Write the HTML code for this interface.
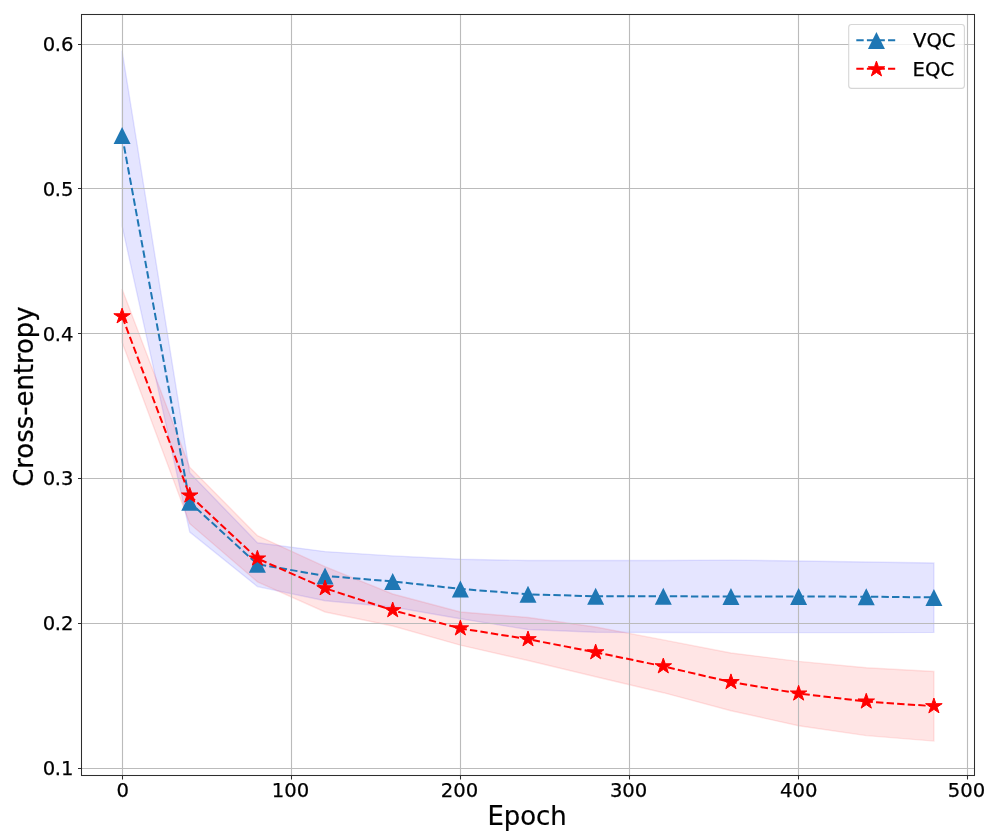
<!DOCTYPE html><html><head><meta charset="utf-8"><style>html,body{margin:0;padding:0;background:#fff}svg{display:block}text{font-family:"DejaVu Sans","Liberation Sans",sans-serif;stroke:#000;stroke-width:0.25px}</style></head><body>
<svg width="1002" height="834" viewBox="0 0 1002 834">
<rect width="1002" height="834" fill="#fff"/>
<defs><clipPath id="ax"><rect x="81.5" y="14.5" width="893" height="761"/></clipPath></defs>
<g clip-path="url(#ax)">
<path d="M122.09,50.8 L189.74,472.7 L257.39,542.8 L325.05,551.6 L392.7,555.9 L460.35,559.3 L528,560.5 L595.65,560.5 L663.3,560.5 L730.95,560.1 L798.61,561 L866.26,562 L933.91,563 L933.91,632.4 L866.26,632.6 L798.61,632.6 L730.95,632.6 L663.3,632.5 L595.65,632.3 L528,629.5 L460.35,618.8 L392.7,607 L325.05,600.8 L257.39,586.6 L189.74,532.1 L122.09,226 Z" fill="#0000ff" fill-opacity="0.1" stroke="#0000ff" stroke-opacity="0.1" stroke-width="1.39"/>
<path d="M122.09,289 L189.74,467.3 L257.39,535.6 L325.05,566.7 L392.7,594 L460.35,612 L528,617.5 L595.65,627 L663.3,639.9 L730.95,653 L798.61,661.4 L866.26,667.8 L933.91,671.5 L933.91,741.1 L866.26,735.6 L798.61,725.8 L730.95,710.7 L663.3,692.7 L595.65,676.8 L528,660.5 L460.35,645.2 L392.7,626 L325.05,612 L257.39,581.8 L189.74,523.7 L122.09,342.3 Z" fill="#ff0000" fill-opacity="0.1" stroke="#ff0000" stroke-opacity="0.1" stroke-width="1.39"/>
</g>
<path d="M122.5,14.5V775.5M291.5,14.5V775.5M460.5,14.5V775.5M629.5,14.5V775.5M798.5,14.5V775.5M967.5,14.5V775.5M81.5,768.5H974.5M81.5,623.5H974.5M81.5,478.5H974.5M81.5,333.5H974.5M81.5,188.5H974.5M81.5,44.5H974.5" stroke="#bbbbbb" stroke-width="1.11" fill="none"/>
<g clip-path="url(#ax)">
<path d="M122.09,135.6 L189.74,502.3 L257.39,564.2 L325.05,575.9 L392.7,581.4 L460.35,588.9 L528,594.3 L595.65,596.3 L663.3,596.3 L730.95,596.5 L798.61,596.5 L866.26,596.7 L933.91,597.4" fill="none" stroke="#1f77b4" stroke-width="2.0" stroke-dasharray="7.389,3.195" stroke-dashoffset="10.2"/>
<path d="M122.09,127.1 L113.59,144.1 L130.59,144.1ZM189.74,493.8 L181.24,510.8 L198.24,510.8ZM257.39,555.7 L248.89,572.7 L265.89,572.7ZM325.05,567.4 L316.55,584.4 L333.55,584.4ZM392.7,572.9 L384.2,589.9 L401.2,589.9ZM460.35,580.4 L451.85,597.4 L468.85,597.4ZM528,585.8 L519.5,602.8 L536.5,602.8ZM595.65,587.8 L587.15,604.8 L604.15,604.8ZM663.3,587.8 L654.8,604.8 L671.8,604.8ZM730.95,588 L722.45,605 L739.45,605ZM798.61,588 L790.11,605 L807.11,605ZM866.26,588.2 L857.76,605.2 L874.76,605.2ZM933.91,588.9 L925.41,605.9 L942.41,605.9Z" fill="#1f77b4"/>
<path d="M122.09,316.3 L189.74,495.5 L257.39,558.5 L325.05,588.3 L392.7,610.2 L460.35,628.4 L528,639.2 L595.65,652.3 L663.3,666.3 L730.95,682.1 L798.61,693.5 L866.26,701.5 L933.91,706.2" fill="none" stroke="#ff0000" stroke-width="2.0" stroke-dasharray="7.389,3.195" stroke-dashoffset="9.8"/>
<path d="M122.09,308.1 L120.14,313.77 L113.82,313.77 L118.93,317.27 L116.98,322.93 L122.09,319.43 L127.2,322.93 L125.25,317.27 L130.36,313.77 L124.04,313.77ZM189.74,487.3 L187.79,492.97 L181.48,492.97 L186.58,496.47 L184.63,502.13 L189.74,498.63 L194.85,502.13 L192.9,496.47 L198.01,492.97 L191.69,492.97ZM257.39,550.3 L255.44,555.97 L249.13,555.97 L254.24,559.47 L252.28,565.13 L257.39,561.63 L262.5,565.13 L260.55,559.47 L265.66,555.97 L259.35,555.97ZM325.05,580.1 L323.09,585.77 L316.78,585.77 L321.89,589.27 L319.94,594.93 L325.05,591.43 L330.15,594.93 L328.2,589.27 L333.31,585.77 L327,585.77ZM392.7,602 L390.75,607.67 L384.43,607.67 L389.54,611.17 L387.59,616.83 L392.7,613.33 L397.81,616.83 L395.85,611.17 L400.96,607.67 L394.65,607.67ZM460.35,620.2 L458.4,625.87 L452.08,625.87 L457.19,629.37 L455.24,635.03 L460.35,631.53 L465.46,635.03 L463.51,629.37 L468.62,625.87 L462.3,625.87ZM528,631 L526.05,636.67 L519.73,636.67 L524.84,640.17 L522.89,645.83 L528,642.33 L533.11,645.83 L531.16,640.17 L536.27,636.67 L529.95,636.67ZM595.65,644.1 L593.7,649.77 L587.38,649.77 L592.49,653.27 L590.54,658.93 L595.65,655.43 L600.76,658.93 L598.81,653.27 L603.92,649.77 L597.6,649.77ZM663.3,658.1 L661.35,663.77 L655.04,663.77 L660.15,667.27 L658.19,672.93 L663.3,669.43 L668.41,672.93 L666.46,667.27 L671.57,663.77 L665.25,663.77ZM730.95,673.9 L729,679.57 L722.69,679.57 L727.8,683.07 L725.85,688.73 L730.95,685.23 L736.06,688.73 L734.11,683.07 L739.22,679.57 L732.91,679.57ZM798.61,685.3 L796.65,690.97 L790.34,690.97 L795.45,694.47 L793.5,700.13 L798.61,696.63 L803.72,700.13 L801.76,694.47 L806.87,690.97 L800.56,690.97ZM866.26,693.3 L864.31,698.97 L857.99,698.97 L863.1,702.47 L861.15,708.13 L866.26,704.63 L871.37,708.13 L869.42,702.47 L874.52,698.97 L868.21,698.97ZM933.91,698 L931.96,703.67 L925.64,703.67 L930.75,707.17 L928.8,712.83 L933.91,709.33 L939.02,712.83 L937.07,707.17 L942.18,703.67 L935.86,703.67Z" fill="#ff0000" stroke="#ff0000" stroke-width="1.0" stroke-linejoin="miter"/>
</g>
<path d="M122.5,775.5v4M291.5,775.5v4M460.5,775.5v4M629.5,775.5v4M798.5,775.5v4M967.5,775.5v4M81.5,768.5h-3.5M81.5,623.5h-3.5M81.5,478.5h-3.5M81.5,333.5h-3.5M81.5,188.5h-3.5M81.5,44.5h-3.5" stroke="#2e2e2e" stroke-width="1.05" fill="none"/>
<rect x="81.5" y="14.5" width="893" height="761" fill="none" stroke="#2e2e2e" stroke-width="1.05"/>
<text x="122.66" y="796.8" font-size="19.6" text-anchor="middle">0</text>
<text x="290.57" y="796.8" font-size="19.6" text-anchor="middle">100</text>
<text x="459.52" y="796.8" font-size="19.6" text-anchor="middle">200</text>
<text x="628.61" y="796.8" font-size="19.6" text-anchor="middle">300</text>
<text x="798.67" y="796.8" font-size="19.6" text-anchor="middle">400</text>
<text x="966.53" y="796.8" font-size="19.6" text-anchor="middle">500</text>
<text x="73.1" y="774.98" font-size="19.6" text-anchor="end"><tspan dx="0.4">0</tspan><tspan dx="-0.4">.1</tspan></text>
<text x="73.1" y="630.17" font-size="19.6" text-anchor="end"><tspan dx="0.4">0</tspan><tspan dx="-0.4">.2</tspan></text>
<text x="73.1" y="485.36" font-size="19.6" text-anchor="end"><tspan dx="0.4">0</tspan><tspan dx="-0.4">.3</tspan></text>
<text x="73.1" y="340.55" font-size="19.6" text-anchor="end"><tspan dx="0.4">0</tspan><tspan dx="-0.4">.4</tspan></text>
<text x="73.1" y="195.74" font-size="19.6" text-anchor="end"><tspan dx="0.4">0</tspan><tspan dx="-0.4">.5</tspan></text>
<text x="73.1" y="50.93" font-size="19.6" text-anchor="end"><tspan dx="0.4">0</tspan><tspan dx="-0.4">.6</tspan></text>
<text transform="translate(527.1,824.7) scale(0.99,1)" font-size="26.2" text-anchor="middle">Epoch</text>
<text transform="translate(33.1,396.6) rotate(-90) scale(0.988,1)" x="0" y="0" font-size="26.2" text-anchor="middle">Cross-entropy</text>
<rect x="848.7" y="24.5" width="115.7" height="63.9" rx="2.8" fill="#fff" fill-opacity="0.8" stroke="#cccccc" stroke-opacity="0.8" stroke-width="1.11"/>
<path d="M856.3,40.15H895.2" stroke="#1f77b4" stroke-width="2.0" stroke-dasharray="7.389,3.195"/>
<path d="M876.45,31.9 L867.95,48.9 L884.95,48.9Z" fill="#1f77b4" stroke="#1f77b4" stroke-width="0"/>
<text x="913" y="46.9" font-size="19.6">VQC</text>
<path d="M856.3,68.8H895.2" stroke="#ff0000" stroke-width="2.0" stroke-dasharray="7.389,3.195"/>
<path d="M876.45,61.1 L874.5,66.77 L868.18,66.77 L873.29,70.27 L871.34,75.93 L876.45,72.43 L881.56,75.93 L879.61,70.27 L884.72,66.77 L878.4,66.77Z" fill="#ff0000" stroke="#ff0000" stroke-width="1.0"/>
<text x="912.6" y="75.8" font-size="19.6">EQC</text>
</svg></body></html>
